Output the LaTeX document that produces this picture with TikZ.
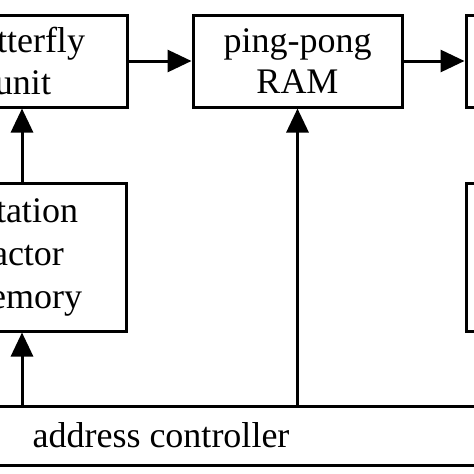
\documentclass[tikz,border=0pt]{standalone}
\usepackage{fontspec}
\setmainfont{Liberation Serif}
\usepackage{tikz}
\usetikzlibrary{arrows.meta, calc}
\newcommand{\blockfont}{\fontsize{36pt}{41pt}\selectfont}
\tikzstyle{block} = [draw=black, line width=3, minimum width=209,
    minimum height=92, align=center, font=\blockfont]
\tikzstyle{tallblock} = [block, minimum height=148, font=\fontsize{36pt}{43pt}\selectfont]
\tikzstyle{bus} = [draw=black, line width=3, minimum width=800,
    minimum height=59, font=\blockfont]
\tikzstyle{link} = [line width=3, -{Triangle[length=24pt, width=22pt]}]

\begin{document}
\begin{tikzpicture}[x=1pt, y=-1pt]
    \useasboundingbox (0,0) rectangle (474,474);
    \fill[white] (0,0) rectangle (474,474);
    \clip (0,0) rectangle (474,474);

    % 1. Top row: butterfly unit, ping-pong RAM, next stage
    \node[block] (bfly) at (23,61) {butterfly\\unit};
    \node[block] (ram) at (297.5,61) {ping-pong\\RAM};
    \node[block] (next) at (570.5,61) {};

    % 2. Middle row: twiddle factor memory and the block on the right
    \node[tallblock] (rot) at (22,257) {rotation\\factor\\memory};
    \node[tallblock] (side) at (570.5,257) {};

    % 3. Bottom bus
    \node[bus] (addr) at (161,435.5) {address controller};

    % 4. Connections
    \draw[link] (bfly) -- (ram);
    \draw[link] (ram) -- (next);
    \draw[link] (rot.north) -- (rot.north |- bfly.south);
    \draw[link] (rot.south |- addr.north) -- (rot.south);
    \draw[link] (ram.south |- addr.north) -- (ram.south);
\end{tikzpicture}
\end{document}
